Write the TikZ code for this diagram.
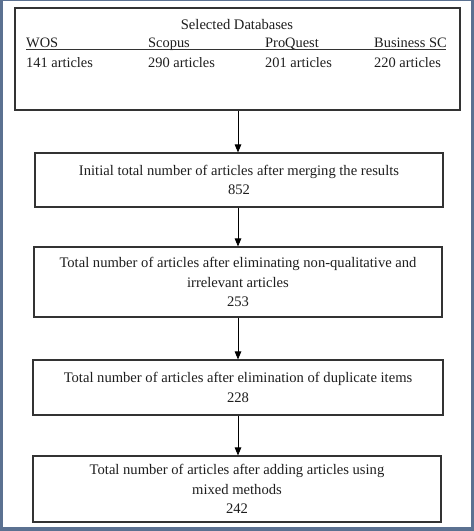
\documentclass[tikz,border=0pt]{standalone}
\usepackage{fontspec}
\setmainfont{Liberation Serif}
\usetikzlibrary{arrows.meta}
\definecolor{frameblue}{HTML}{5B7191}
\definecolor{boxline}{HTML}{333333}
\definecolor{txt}{HTML}{1E1E1E}
\tikzset{
  stepbox/.style={draw=boxline, line width=1.1pt, fill=white, inner sep=0pt,
    align=center, text=txt, font=\fontsize{14.6}{19.6}\selectfont},
  lbl/.style={inner sep=0pt, anchor=base west, text=txt, font=\fontsize{14.4}{15}\selectfont},
  arr/.style={draw=black, line width=0.9pt, -{Triangle[width=6.5pt,length=8pt]}}
}
\begin{document}
\begin{tikzpicture}[x=1pt,y=-1pt]
\useasboundingbox (0,0) rectangle (474,531);
\fill[frameblue] (0,0) rectangle (474,531);
\fill[white] (3,1) rectangle (471,527);
% top box
\node[stepbox, minimum width=445pt, minimum height=102pt] (top) at (237.5,59) {};
\node[inner sep=0pt, anchor=base, text=txt, font=\fontsize{14.6}{15}\selectfont] (title) at (237,29) {Selected Databases};
\node[lbl] (wos) at (26,47) {WOS};
\node[lbl] (scopus) at (148,47) {Scopus};
\node[lbl] (proquest) at (265,47) {ProQuest};
\node[lbl] (bsc) at (374,47) {Business SC};
\draw[boxline, line width=0.9pt] (26,49.5) -- (446,49.5);
\node[lbl] (n1) at (26,67) {141 articles};
\node[lbl] (n2) at (148,67) {290 articles};
\node[lbl] (n3) at (265,67) {201 articles};
\node[lbl] (n4) at (374,67) {220 articles};
% step boxes
\node[stepbox, minimum width=408pt, minimum height=54pt] (b2) at (239,180)
  {Initial total number of articles after merging the results\\852};
\node[stepbox, minimum width=408pt, minimum height=70pt] (b3) at (238,282)
  {Total number of articles after eliminating non-qualitative and\\irrelevant articles\\253};
\node[stepbox, minimum width=410pt, minimum height=55pt] (b4) at (238,387.5)
  {Total number of articles after elimination of duplicate items\\228};
\node[stepbox, minimum width=408pt, minimum height=66pt] (b5) at (237,489)
  {Total number of articles after adding articles using\\mixed methods\\242};
% arrows
\coordinate (ax) at (238,0);
\draw[arr] (top.south -| ax) -- (b2.north -| ax);
\draw[arr] (b2.south -| ax) -- (b3.north -| ax);
\draw[arr] (b3.south -| ax) -- (b4.north -| ax);
\draw[arr] (b4.south -| ax) -- (b5.north -| ax);
\end{tikzpicture}
\end{document}
